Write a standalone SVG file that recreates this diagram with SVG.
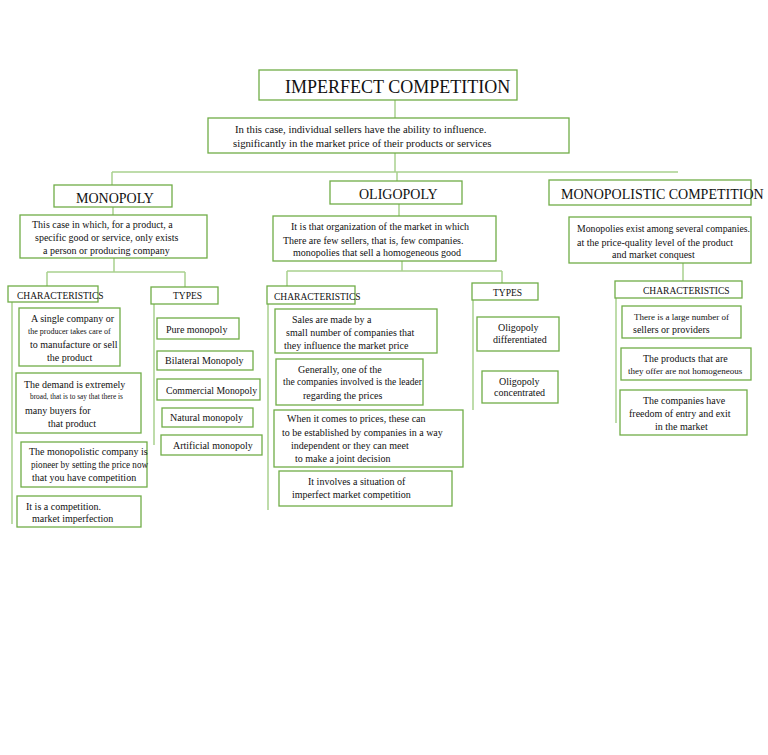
<svg xmlns="http://www.w3.org/2000/svg" width="768" height="755" viewBox="0 0 768 755">
<style>
.b{fill:#fff;stroke:#70ad47;stroke-width:1.3}
.c{fill:none;stroke:#a9d18e;stroke-width:1.5}
text{font-family:"Liberation Serif","Times New Roman",serif;fill:#111;font-size:10px}
.h1{font-size:18px}
.h2{font-size:14px}
.h3{font-size:9.5px}
.s{font-size:7.3px}
.m{font-size:9px}
.t{font-size:10.7px}
</style>
<rect width="768" height="755" fill="#fff"/>
<g id="connectors">
<path class="c" d="M395 100V118M395 153V172M112 172H678M112 172V185M397 172V181"/>
<path class="c" d="M113 207V215M114 258V272M47 272H185M47 272V286M185 272V287"/>
<path class="c" d="M399 204V216M402 261V271M287 271H502M287 271V286M502 271V284"/>
<path class="c" d="M683 263V282"/>
<path class="c" d="M12 302V524M154 304V445M268 304V510M473 300V410M616 298V423"/>
</g>
<g id="title"><rect class="b" x="259" y="70" width="258" height="30"/><text class="h1" x="285" y="93">IMPERFECT COMPETITION</text></g>
<g id="desc"><rect class="b" x="208" y="118" width="361" height="35"/><text class="t" x="235" y="133">In this case, individual sellers have the ability to influence.</text><text class="t" x="233" y="147">significantly in the market price of their products or services</text></g>

<g id="monopoly"><rect class="b" x="54" y="185" width="118" height="22"/><text class="h2" x="76" y="203">MONOPOLY</text></g>
<g id="mono-desc"><rect class="b" x="20" y="215" width="187" height="43"/><text x="32" y="228">This case in which, for a product, a</text><text x="35" y="241">specific good or service, only exists</text><text x="43" y="254">a person or producing company</text></g>
<g id="mono-char"><rect class="b" x="8" y="286" width="90" height="16"/><text class="h3" x="17" y="299">CHARACTERISTICS</text></g>
<g id="mono-types"><rect class="b" x="151" y="287" width="67" height="17"/><text class="h3" x="173" y="299">TYPES</text></g>
<g id="mc1"><rect class="b" x="19" y="308" width="101" height="58"/><text x="31" y="322">A single company or</text><text x="28" y="334" style="font-size:8px">the producer takes care of</text><text x="30" y="348">to manufacture or sell</text><text x="47" y="361">the product</text></g>
<g id="mc2"><rect class="b" x="16" y="373" width="125" height="60"/><text x="24" y="388">The demand is extremely</text><text class="s" x="30" y="399">broad, that is to say that there is</text><text x="25" y="414">many buyers for</text><text x="48" y="427">that product</text></g>
<g id="mc3"><rect class="b" x="21" y="442" width="126" height="45"/><text x="29" y="455">The monopolistic company is</text><text x="31" y="468" textLength="117" lengthAdjust="spacingAndGlyphs">pioneer by setting the price now</text><text x="32" y="481">that you have competition</text></g>
<g id="mc4"><rect class="b" x="17" y="496" width="124" height="31"/><text x="26" y="510">It is a competition.</text><text x="32" y="522">market imperfection</text></g>
<g id="mt1"><rect class="b" x="157" y="318" width="82" height="21"/><text x="166" y="333">Pure monopoly</text></g>
<g id="mt2"><rect class="b" x="157" y="351" width="96" height="19"/><text x="165" y="364">Bilateral Monopoly</text></g>
<g id="mt3"><rect class="b" x="157" y="379" width="103" height="21"/><text x="166" y="394" textLength="91" lengthAdjust="spacingAndGlyphs">Commercial Monopoly</text></g>
<g id="mt4"><rect class="b" x="162" y="408" width="91" height="19"/><text x="170" y="421">Natural monopoly</text></g>
<g id="mt5"><rect class="b" x="161" y="435" width="101" height="20"/><text x="173" y="449">Artificial monopoly</text></g>

<g id="oligopoly"><rect class="b" x="330" y="181" width="132" height="23"/><text class="h2" x="359" y="199">OLIGOPOLY</text></g>
<g id="oli-desc"><rect class="b" x="273" y="216" width="223" height="45"/><text x="291" y="230">It is that organization of the market in which</text><text x="283" y="244">There are few sellers, that is, few companies.</text><text x="293" y="256">monopolies that sell a homogeneous good</text></g>
<g id="oli-char"><rect class="b" x="267" y="286" width="88" height="18"/><text class="h3" x="274" y="300">CHARACTERISTICS</text></g>
<g id="oli-types"><rect class="b" x="472" y="283" width="66" height="17"/><text class="h3" x="493" y="296">TYPES</text></g>
<g id="oc1"><rect class="b" x="275" y="309" width="162" height="44"/><text x="292" y="323">Sales are made by a</text><text x="286" y="336">small number of companies that</text><text x="284" y="349">they influence the market price</text></g>
<g id="oc2"><rect class="b" x="276" y="359" width="147" height="46"/><text x="298" y="373">Generally, one of the</text><text x="283" y="385" textLength="139" lengthAdjust="spacingAndGlyphs">the companies involved is the leader</text><text x="303" y="399">regarding the prices</text></g>
<g id="oc3"><rect class="b" x="274" y="410" width="189" height="57"/><text x="287" y="422">When it comes to prices, these can</text><text x="282" y="436">to be established by companies in a way</text><text x="291" y="449">independent or they can meet</text><text x="295" y="462">to make a joint decision</text></g>
<g id="oc4"><rect class="b" x="279" y="471" width="173" height="35"/><text x="308" y="485">It involves a situation of</text><text x="292" y="498">imperfect market competition</text></g>
<g id="ot1"><rect class="b" x="477" y="317" width="82" height="34"/><text x="498" y="331">Oligopoly</text><text x="493" y="343">differentiated</text></g>
<g id="ot2"><rect class="b" x="482" y="371" width="76" height="32"/><text x="499" y="385">Oligopoly</text><text x="494" y="396">concentrated</text></g>

<g id="monopolistic"><rect class="b" x="549" y="180" width="202" height="25"/><text class="h2" x="561" y="199">MONOPOLISTIC COMPETITION</text></g>
<g id="mp-desc"><rect class="b" x="569" y="217" width="182" height="46"/><text x="577" y="232" textLength="173" lengthAdjust="spacingAndGlyphs">Monopolies exist among several companies.</text><text x="577" y="246">at the price-quality level of the product</text><text x="612" y="258">and market conquest</text></g>
<g id="mp-char"><rect class="b" x="615" y="281" width="127" height="17"/><text class="h3" x="643" y="294">CHARACTERISTICS</text></g>
<g id="pc1"><rect class="b" x="622" y="306" width="119" height="32"/><text class="m" x="634" y="320">There is a large number of</text><text x="633" y="333">sellers or providers</text></g>
<g id="pc2"><rect class="b" x="621" y="348" width="130" height="32"/><text x="643" y="362">The products that are</text><text class="m" x="628" y="374">they offer are not homogeneous</text></g>
<g id="pc3"><rect class="b" x="620" y="390" width="127" height="45"/><text x="643" y="404">The companies have</text><text x="629" y="417">freedom of entry and exit</text><text x="655" y="430">in the market</text></g>
</svg>
